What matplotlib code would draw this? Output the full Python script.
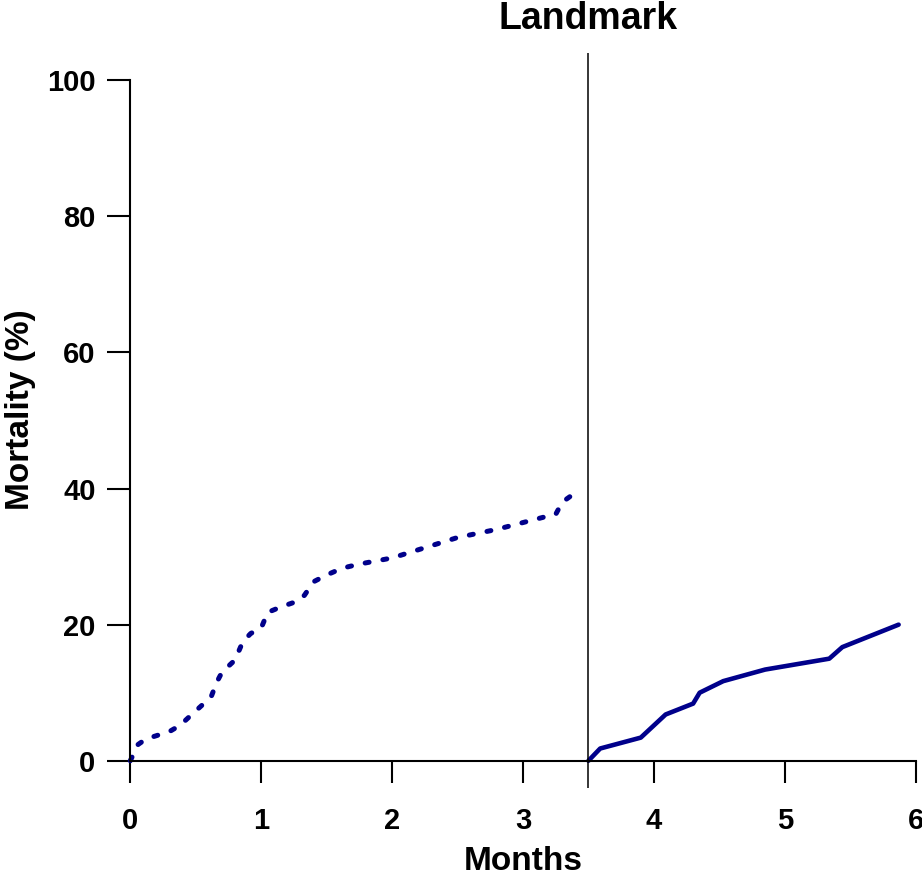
import matplotlib
matplotlib.use("Agg")
import matplotlib.pyplot as plt
import matplotlib.transforms as mtransforms

plt.rcParams['font.family'] = ['Liberation Sans', 'DejaVu Sans']
plt.rcParams['font.weight'] = 'bold'

# before landmark (dashed)
pre_months = [0, 0.06, 0.12, 0.3, 0.38, 0.47, 0.55, 0.62, 0.66, 0.7, 0.8, 0.86,
              0.92, 1.0, 1.05, 1.15, 1.27, 1.33, 1.4, 1.5, 1.62, 1.75, 2.0, 2.2,
              2.5, 2.8, 3.0, 3.2, 3.25, 3.3, 3.38]
pre_mort = [0, 2.4, 3.2, 4.3, 5.2, 6.8, 8.2, 9.5, 11.5, 13.0, 14.8, 17.5,
            18.7, 19.5, 21.8, 22.6, 23.4, 24.3, 26.3, 27.3, 28.3, 28.9, 29.8, 31.0,
            32.8, 34.0, 35.0, 36.0, 36.2, 38.0, 39.1]

# after landmark (solid)
post_months = [3.5, 3.59, 3.9, 4.09, 4.3, 4.35, 4.53, 4.85, 5.34, 5.44, 5.87]
post_mort = [0, 1.8, 3.4, 6.8, 8.4, 10.0, 11.7, 13.4, 15.0, 16.7, 20.0]

landmark = 3.5
xticks = [0, 1, 2, 3, 4, 5, 6]
yticks = [0, 20, 40, 60, 80, 100]

col = '#00008b'

fig = plt.figure(figsize=(9.22, 8.77), dpi=100)
ax = fig.add_axes([0.1271, 0.1015, 0.8731, 0.8381])

ax.plot(pre_months, pre_mort, color=col, lw=3.6, linestyle=(0, (0.8, 2.8)),
        dash_capstyle='round', clip_on=False)
ax.plot(post_months, post_mort, color=col, lw=3.3, solid_capstyle='round',
        solid_joinstyle='round', clip_on=False)
ax.axvline(landmark, color='black', lw=1.1)

ax.set_xlim(-0.1, 6.05)
ax.set_ylim(-4, 104)

for s in ['top', 'right']:
    ax.spines[s].set_visible(False)
ax.spines['left'].set_position(('data', 0))
ax.spines['bottom'].set_position(('data', 0))
ax.spines['left'].set_bounds(0, 100)
ax.spines['bottom'].set_bounds(0, 6)
ax.spines['left'].set_linewidth(1.5)
ax.spines['bottom'].set_linewidth(1.5)

ax.set_xticks(xticks)
ax.set_yticks(yticks)
ax.tick_params(axis='x', length=16, width=1.5, pad=17, labelsize=21)
ax.tick_params(axis='y', length=16.5, width=1.5, pad=8.5, labelsize=21)
for lab in ax.get_xticklabels() + ax.get_yticklabels():
    lab.set_fontweight('bold')

tr = mtransforms.blended_transform_factory(ax.transData, fig.transFigure)
ax.text(landmark, 1 - 29 / 877, 'Landmark', transform=tr, ha='center',
        va='baseline', fontsize=27, fontweight='bold')
ax.text(3, 1 - 870 / 877, 'Months', transform=tr, ha='center',
        va='baseline', fontsize=24, fontweight='bold')
fig.text(20 / 922, 1 - 410 / 877, 'Mortality (%)', rotation=90, ha='center',
         va='center', fontsize=24, fontweight='bold')

fig.savefig('out.png', dpi=100)
